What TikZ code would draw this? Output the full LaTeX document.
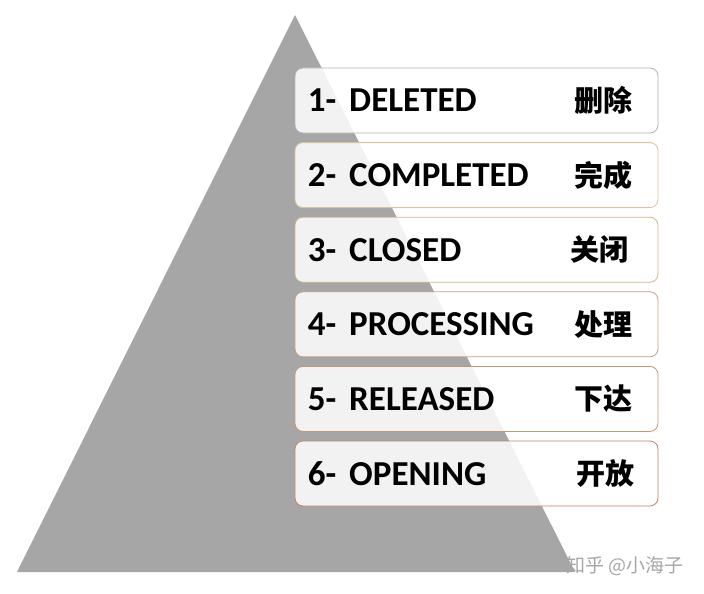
\documentclass[tikz,border=0pt]{standalone}
\usepackage{fontspec}
\setmainfont{Carlito}
\newfontfamily\cjk{Noto Sans CJK SC}
\usetikzlibrary{positioning}
\definecolor{pyramid}{HTML}{A6A6A6}
\definecolor{rimA}{HTML}{B4B4B4}
\definecolor{rimB}{HTML}{D6C4A0}
\definecolor{rimC}{HTML}{D4B28A}
\definecolor{rimD}{HTML}{C99E7C}
\definecolor{rimE}{HTML}{C69676}
\definecolor{rimF}{HTML}{BF8468}
\newcommand{\lvlnum}[1]{#1-\hspace{13pt}}

\begin{document}
\begin{tikzpicture}[x=1pt,y=-1pt,node distance=8.8pt,
    levelbox/.style={draw=#1,rounded corners=8pt,fill=white,fill opacity=0.86,
      text opacity=1,minimum width=363pt,minimum height=65pt,line width=0.8pt},
    entext/.style={font=\bfseries\fontsize{35}{35}\selectfont,anchor=west,inner sep=0pt},
    zhtext/.style={font=\cjk\bfseries\fontsize{29}{29}\selectfont,anchor=east,inner sep=0pt}]
    \useasboundingbox (0,0) rectangle (704,594);
    % pyramid
    \coordinate (apex) at (295,15);
    \coordinate (bl) at (17,572);
    \coordinate (br) at (575,572);
    \fill[pyramid] (apex) -- (bl) -- (br) -- cycle;
    % status boxes
    \node[levelbox=rimA] (s1) at (476.5,100.5) {};
    \node[levelbox=rimB] (s2) [below=of s1] {};
    \node[levelbox=rimC] (s3) [below=of s2] {};
    \node[levelbox=rimD] (s4) [below=of s3] {};
    \node[levelbox=rimE] (s5) [below=of s4] {};
    \node[levelbox=rimF] (s6) [below=of s5] {};
    % english labels
    \node[entext] (e1) at ([xshift=13pt]s1.west) {\lvlnum{1}DELETED};
    \node[entext] (e2) at ([xshift=13pt]s2.west) {\lvlnum{2}COMPLETED};
    \node[entext] (e3) at ([xshift=13pt]s3.west) {\lvlnum{3}CLOSED};
    \node[entext] (e4) at ([xshift=13pt]s4.west) {\lvlnum{4}PROCESSING};
    \node[entext] (e5) at ([xshift=13pt]s5.west) {\lvlnum{5}RELEASED};
    \node[entext] (e6) at ([xshift=13pt]s6.west) {\lvlnum{6}OPENING};
    % chinese labels
    \node[zhtext] (z1) at ([xshift=-26pt]s1.east) {删除};
    \node[zhtext] (z2) at ([xshift=-26pt]s2.east) {完成};
    \node[zhtext] (z3) at ([xshift=-30pt]s3.east) {关闭};
    \node[zhtext] (z4) at ([xshift=-26pt]s4.east) {处理};
    \node[zhtext] (z5) at ([xshift=-26pt]s5.east) {下达};
    \node[zhtext] (z6) at ([xshift=-24pt]s6.east) {开放};
    % watermark
    \node[font=\cjk\fontsize{19}{19}\selectfont,text=black!35] (wm) at (625,566) {知乎 @小海子};
\end{tikzpicture}
\end{document}
